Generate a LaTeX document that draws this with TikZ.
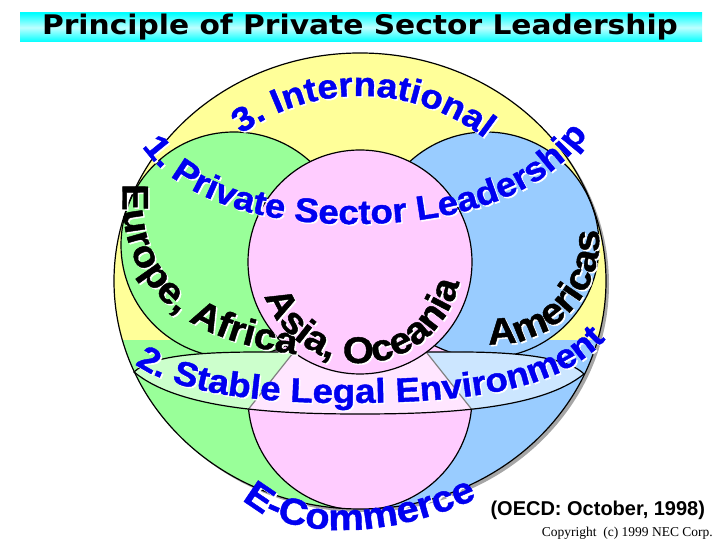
\documentclass[tikz,border=0pt]{standalone}
\usepackage{fontspec}
\setmainfont{Liberation Sans}
\newfontfamily\heavyfont{Liberation Sans}[BoldFeatures={FakeBold=1.2, FakeStretch=1.08}]
\newfontfamily\titlefont{DejaVu Sans}[BoldFeatures={FakeStretch=1.1}]
\newfontfamily\copyfont{Liberation Serif}
\usetikzlibrary{decorations.text}

\definecolor{sphereyellow}{RGB}{255,255,153}
\definecolor{leftgreen}{RGB}{153,255,153}
\definecolor{midpink}{RGB}{255,204,255}
\definecolor{rightblue}{RGB}{153,204,255}
\definecolor{bandgreen}{RGB}{204,255,204}
\definecolor{bandpink}{RGB}{255,230,255}
\definecolor{bandblue}{RGB}{204,230,255}
\definecolor{titlecyan}{RGB}{0,255,255}
\definecolor{titlelight}{RGB}{190,255,255}
\definecolor{labelblue}{RGB}{0,0,240}

\newcommand\arcfont{\heavyfont\bfseries\fontsize{34}{34}\selectfont}
\newcommand\bigarcfont{\heavyfont\bfseries\fontsize{37}{37}\selectfont}

\tikzset{
  outline/.style={draw=black, line width=1.2pt},
  bendtext/.style 2 args={decorate, decoration={text along path, text align=center,
      text={|\arcfont\color{#1}|#2}}},
  bigbendtext/.style 2 args={decorate, decoration={text along path, text align=center,
      text={|\bigarcfont\color{#1}|#2}}},
}

\begin{document}
\begin{tikzpicture}[x=1pt, y=1pt]
  \useasboundingbox (0,0) rectangle (720,540);
  % title bar
  \shade[top color=titlecyan, bottom color=titlecyan, middle color=titlelight] (20,498) rectangle (702,527);
  \node (title) at (360,512.5) {\titlefont\bfseries\fontsize{27}{30}\selectfont Principle of Private Sector Leadership};

  % sphere and its shadow
  \fill[gray!70] (363,256) ellipse [x radius=246, y radius=228];
  \fill[sphereyellow] (360,259) ellipse [x radius=246, y radius=228];

  % lower columns
  \begin{scope}
    \clip (360,259) ellipse [x radius=246, y radius=228];
    \fill[leftgreen] (100,0) rectangle (360,200);
    \fill[rightblue] (360,0) rectangle (620,200);
    \draw[outline, fill=midpink] (360,142) circle [radius=112];
  \end{scope}

  % upper circles
  \draw[outline, fill=leftgreen] (234,295) circle [radius=113];
  \draw[outline, fill=rightblue] (486,295) circle [radius=113];

  % legal band
  \draw[outline, fill=bandpink, path picture={
      \fill[bandgreen] (0,100) -- (224,100) -- (343,250) -- (0,250) -- cycle;
      \fill[bandblue] (720,100) -- (496,100) -- (377,250) -- (720,250) -- cycle;
      \draw[gray, line width=1.2pt] (224,100) -- (343,250);
      \draw[gray, line width=1.2pt] (496,100) -- (377,250);
    }]
    (134,168) .. controls (150,183) and (190,188) .. (260,188) -- (460,188)
    .. controls (530,188) and (570,180) .. (584,166)
    .. controls (540,130) and (440,126) .. (360,126)
    .. controls (280,126) and (180,130) .. (134,168) -- cycle;

  \draw[outline, fill=midpink] (360,278) circle [radius=112];
  \draw[outline] (360,259) ellipse [x radius=246, y radius=228];

  % bent labels, white shadow first
  \path[shift={(1.5,-1.5)}, bendtext={white}{3. International}] ([shift={(128:204)}]360,240) arc [start angle=128, end angle=50, radius=204];
  \path[bendtext={labelblue}{3. International}] ([shift={(128:204)}]360,240) arc [start angle=128, end angle=50, radius=204];

  \path[shift={(1.5,-1.5)}, bendtext={white}{1. Private Sector Leadership}] (138,400) .. controls (170,345) and (250,318) .. (340,316) .. controls (450,314) and (545,340) .. (592,412);
  \path[bendtext={labelblue}{1. Private Sector Leadership}] (138,400) .. controls (170,345) and (250,318) .. (340,316) .. controls (450,314) and (545,340) .. (592,412);

  \path[shift={(1.5,-1.5)}, bigbendtext={white}{Europe, Africa}, decoration={text align=left}] (123,356) .. controls (117,270) and (165,195) .. (315,184);
  \path[bigbendtext={black}{Europe, Africa}, decoration={text align=left}] (123,356) .. controls (117,270) and (165,195) .. (315,184);

  \path[shift={(1.5,-1.5)}, bigbendtext={white}{Asia, Oceania}] ([shift={(182:101)}]360,278) arc [start angle=182, end angle=366, radius=101];
  \path[bigbendtext={black}{Asia, Oceania}] ([shift={(182:101)}]360,278) arc [start angle=182, end angle=366, radius=101];

  \path[shift={(1.5,-1.5)}, bigbendtext={white}{Americas}] ([shift={(262:104)}]495,300) arc [start angle=262, end angle=370, radius=104];
  \path[bigbendtext={black}{Americas}] ([shift={(262:104)}]495,300) arc [start angle=262, end angle=370, radius=104];

  \path[shift={(1.5,-1.5)}, bendtext={white}{2. Stable Legal Environment}, decoration={text align=left}] (135,176) .. controls (170,150) and (250,137) .. (340,137) .. controls (450,137) and (555,145) .. (605,200);
  \path[bendtext={labelblue}{2. Stable Legal Environment}, decoration={text align=left}] (135,176) .. controls (170,150) and (250,137) .. (340,137) .. controls (450,137) and (555,145) .. (605,200);

  \path[shift={(1.5,-1.5)}, bigbendtext={white}{E-Commerce}] (240,43) .. controls (280,2) and (380,-4) .. (480,43);
  \path[bigbendtext={labelblue}{E-Commerce}] (240,43) .. controls (280,2) and (380,-4) .. (480,43);

  % source notes
  \node[anchor=west] (oecd) at (487,30) {\bfseries\fontsize{20}{22}\selectfont (OECD: October, 1998)};
  \node[anchor=east, inner sep=1pt] (copyright) at (714,7) {\copyfont\fontsize{13.5}{15}\selectfont Copyright\ \ (c) 1999 NEC Corp.};
\end{tikzpicture}
\end{document}
